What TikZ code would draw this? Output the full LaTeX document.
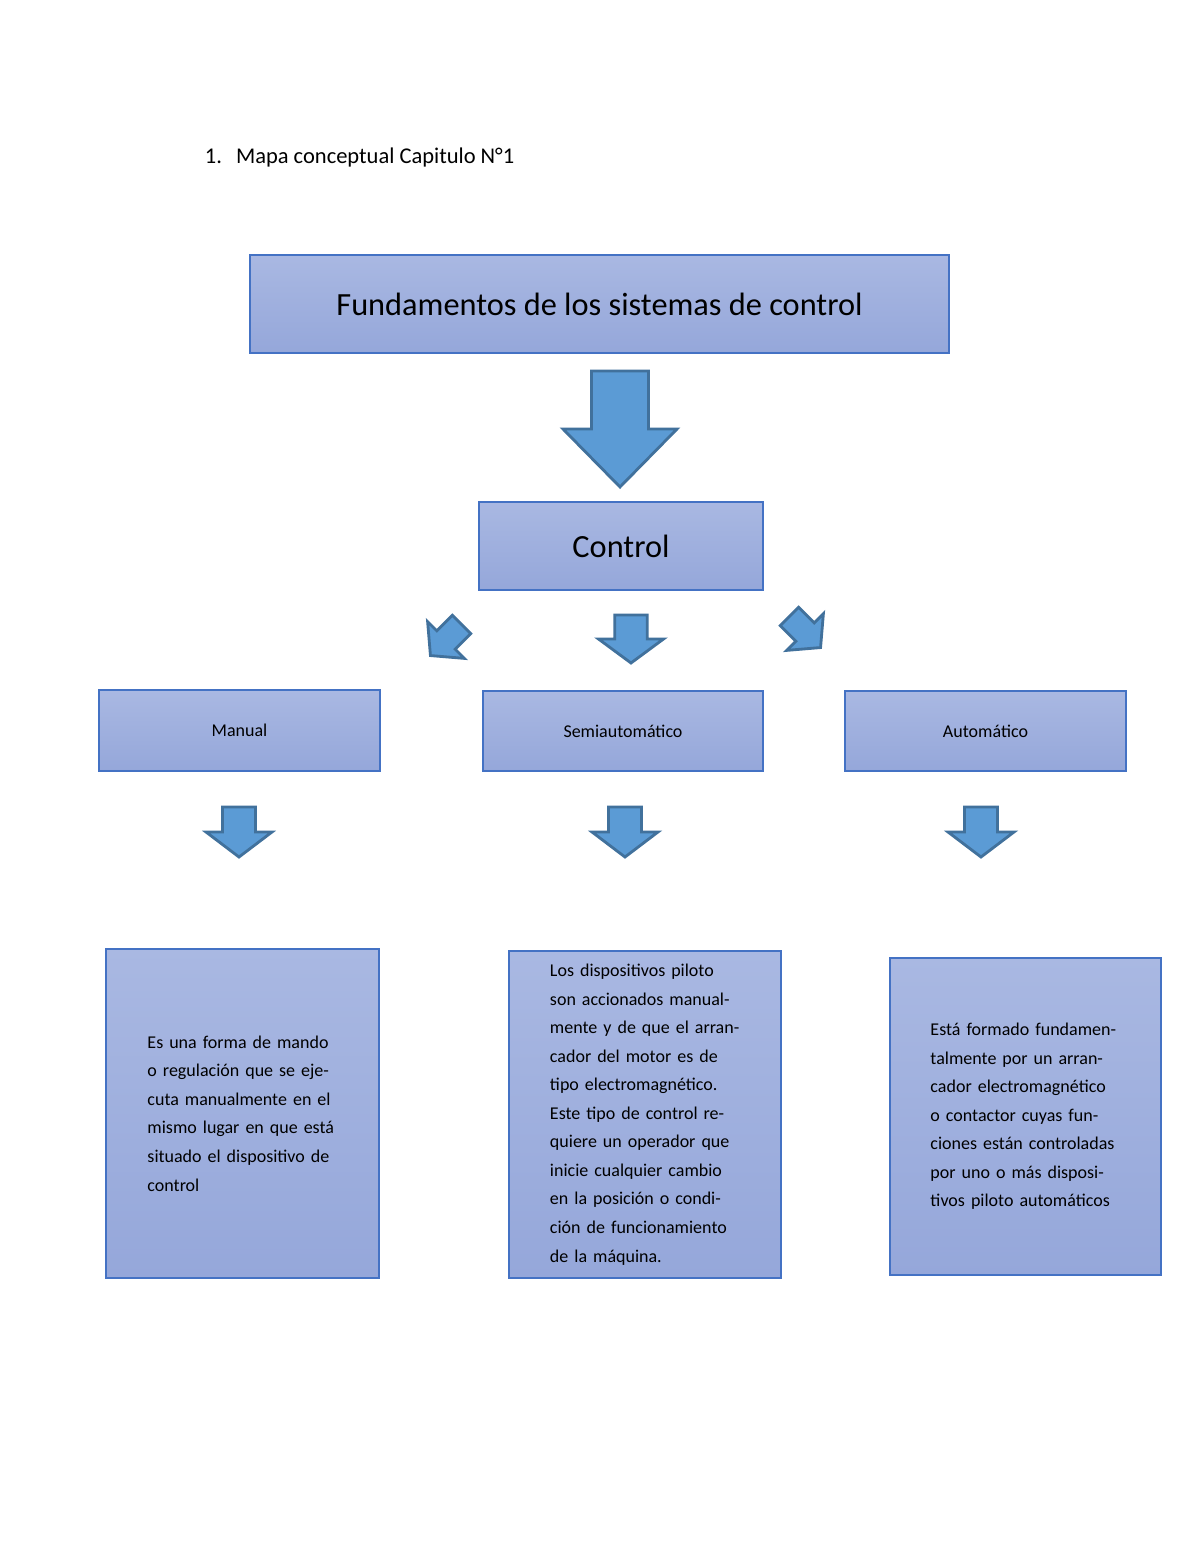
\documentclass[tikz,border=0pt]{standalone}
\usepackage{fontspec}
\setmainfont{Carlito}
\definecolor{bx}{HTML}{4472C4}
\definecolor{btop}{HTML}{A9B8E2}
\definecolor{bbot}{HTML}{95A7DA}
\definecolor{ar}{HTML}{5B9BD5}
\definecolor{arb}{HTML}{41719C}
\tikzset{
 cbox/.style={draw=bx,line width=1pt,top color=btop,bottom color=bbot,inner sep=0pt,align=center},
 arrowshape/.style={fill=ar,draw=arb,line width=2pt,line join=miter},
 desc/.style={font=\fontsize{12.8pt}{20.3pt}\selectfont,text width=4.75cm}
}
\newcommand{\blockarrow}[5]{% x y w h rot
 \begin{scope}[shift={(#1,#2)},rotate=#5]
 \draw[arrowshape] (-0.25*#3,-0.5*#4)--(0.25*#3,-0.5*#4)--(0.25*#3,0)--(0.5*#3,0)--(0,0.5*#4)--(-0.5*#3,0)--(-0.25*#3,0)--cycle;
 \end{scope}}
\begin{document}
\begin{tikzpicture}[x=0.025cm,y=-0.025cm]
\useasboundingbox[fill=white] (0,0) rectangle (1200,1553);
\node[anchor=west,font=\fontsize{16pt}{19pt}\selectfont] (h) at (200,157) {1.\hspace{0.35cm}Mapa conceptual Capitulo N°1};
\node[cbox,minimum width=699*0.025cm,minimum height=98*0.025cm,font=\fontsize{23pt}{27pt}\selectfont] (f) at (599.5,304) {Fundamentos de los sistemas de control};
\blockarrow{620}{429}{114}{116}{0}
\node[cbox,minimum width=284*0.025cm,minimum height=88*0.025cm,font=\fontsize{23pt}{27pt}\selectfont] (c) at (621,546) {Control};
\blockarrow{446}{640}{52}{44}{-45}
\blockarrow{631}{639}{65}{48}{0}
\blockarrow{805}{632}{52}{44}{45}
\node[cbox,minimum width=281*0.025cm,minimum height=81*0.025cm,font=\fontsize{12.8pt}{15pt}\selectfont] (m) at (239.5,730.5) {Manual};
\node[cbox,minimum width=280*0.025cm,minimum height=80*0.025cm,font=\fontsize{12.8pt}{15pt}\selectfont] (s) at (623,731) {Semiautomático};
\node[cbox,minimum width=281*0.025cm,minimum height=80*0.025cm,font=\fontsize{12.8pt}{15pt}\selectfont] (a) at (985.5,731) {Automático};
\blockarrow{239}{832}{66}{50}{0}
\blockarrow{625}{832}{66}{50}{0}
\blockarrow{981}{832}{66}{50}{0}
\node[cbox,minimum width=273*0.025cm,minimum height=329*0.025cm] (d1) at (242.5,1113.5) {};
\node[desc] at (d1) {Es una forma de mando o regulación que se ejecuta manualmente en el mismo lugar en que está situado el dispositivo de control};
\node[cbox,minimum width=272*0.025cm,minimum height=327*0.025cm] (d2) at (645,1114.5) {};
\node[desc] at (d2) {Los dispositivos piloto son accionados manualmente y de que el arrancador del motor es de tipo electromagnético. Este tipo de control requiere un operador que inicie cualquier cambio en la posición o condición de funcionamiento de la máquina.};
\node[cbox,minimum width=271*0.025cm,minimum height=317*0.025cm] (d3) at (1025.5,1116.5) {};
\node[desc] at (d3) {Está formado fundamentalmente por un arrancador electromagnético o contactor cuyas funciones están controladas por uno o más dispositivos piloto automáticos};
\end{tikzpicture}
\end{document}
